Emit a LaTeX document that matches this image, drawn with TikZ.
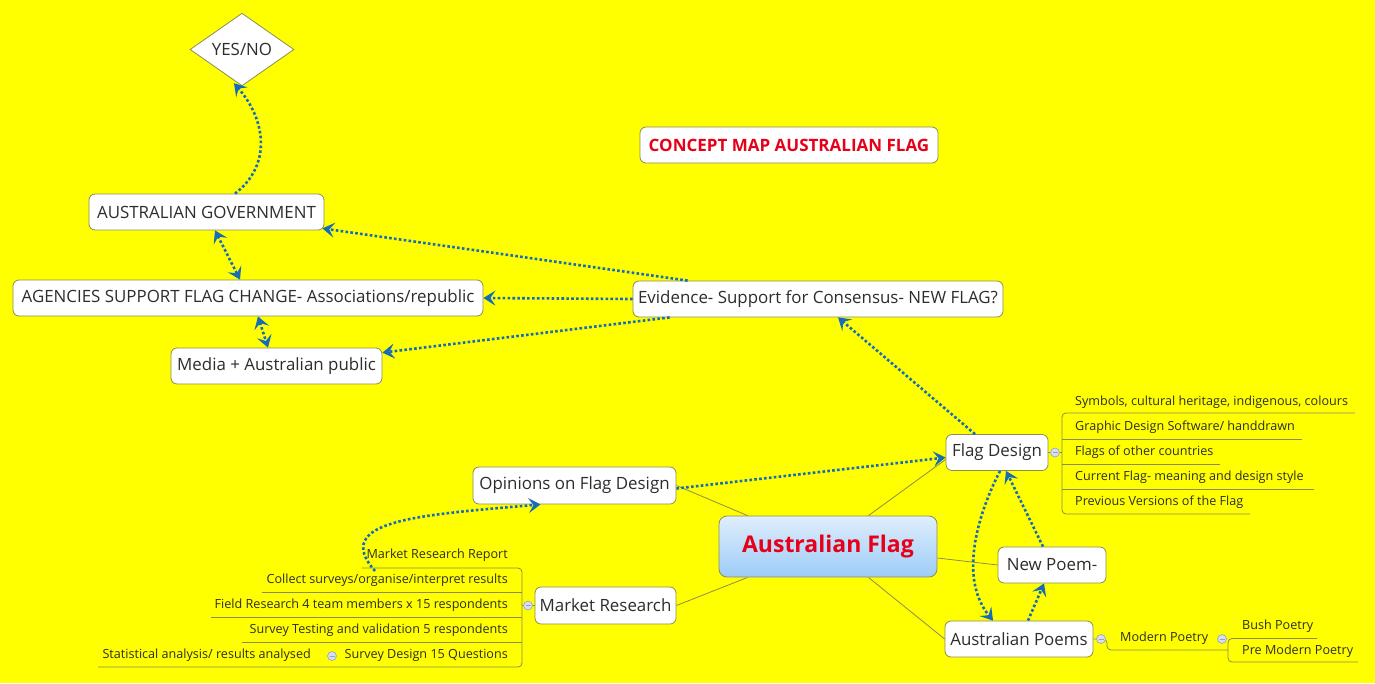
\documentclass[tikz,border=0pt]{standalone}
\usepackage{fontspec}
\setmainfont{Open Sans}
\usetikzlibrary{arrows.meta,shapes.geometric,calc}
\definecolor{bgyellow}{RGB}{255,255,0}
\definecolor{relblue}{RGB}{22,108,185}
\definecolor{edgecol}{RGB}{140,140,80}
\definecolor{txtcol}{RGB}{45,45,45}
\definecolor{redtxt}{RGB}{230,0,25}
\definecolor{minifill}{RGB}{214,222,240}
\definecolor{minidraw}{RGB}{150,160,195}
\definecolor{ctop}{RGB}{224,238,252}
\definecolor{cbot}{RGB}{156,204,248}
\pgfdeclarelayer{backlayer}
\pgfdeclarelayer{linklayer}
\pgfsetlayers{backlayer,linklayer,main}
\begin{document}
\begin{tikzpicture}[x=1pt,y=-1pt,
  topic/.style={draw=edgecol, fill=white, rounded corners=6pt, inner sep=0pt, text=txtcol, line width=0.8pt, font=\fontsize{16.9}{19}\selectfont},
  subtxt/.style={inner sep=0pt, text=txtcol, font=\fontsize{12.6}{14}\selectfont},
  treeline/.style={draw=edgecol, line width=0.8pt, rounded corners=4pt},
  conn/.style={draw=edgecol, line width=0.8pt},
  mini/.style={circle, draw=minidraw, fill=minifill, minimum size=9pt, inner sep=0pt, line width=0.6pt,
    path picture={\draw[minidraw, line width=0.8pt] ([xshift=-2.5pt]path picture bounding box.center) -- ([xshift=2.5pt]path picture bounding box.center);}},
  rel/.style={draw=relblue, line width=2.6pt, dash pattern=on 2.6pt off 2.3pt, -{Stealth[length=12pt,width=15pt,inset=5pt]}},
  relboth/.style={rel, {Stealth[length=12pt,width=15pt,inset=5pt]}-{Stealth[length=12pt,width=15pt,inset=5pt]}}
]
\begin{pgfonlayer}{backlayer}
\fill[bgyellow] (0,0) rectangle (1375,683);
\end{pgfonlayer}
\useasboundingbox (0,0) rectangle (1375,683);

% ---------- main topics
\node[topic, minimum width=218pt, minimum height=61pt, rounded corners=8pt, top color=ctop, bottom color=cbot,
  text=redtxt, font=\fontsize{23}{26}\bfseries] (central) at (828,546.5) {Australian Flag};
\node[topic, minimum width=203pt, minimum height=37pt] (opinions) at (574.5,485.5) {Opinions on Flag Design};
\node[topic, minimum width=141pt, minimum height=37pt] (market) at (605.5,605.5) {Market Research};
\node[topic, minimum width=102pt, minimum height=36pt] (flagdesign) at (997,452.5) {Flag Design};
\node[topic, minimum width=108pt, minimum height=36pt] (newpoem) at (1052,565) {New Poem-};
\node[topic, minimum width=148pt, minimum height=36pt] (poems) at (1019,639) {Australian Poems};

\begin{pgfonlayer}{linklayer}
\draw[conn] (opinions.east) -- ([xshift=29pt]central.north west);
\draw[conn] (market.east) -- ([xshift=29pt]central.south west);
\draw[conn] ([xshift=-69pt]central.north east) -- ([yshift=-7pt]flagdesign.west);
\draw[conn] ([yshift=-11.5pt]central.east) -- (newpoem.west);
\draw[conn] ([xshift=-69pt]central.south east) -- (poems.west);
\end{pgfonlayer}

% ---------- other topics
\node[diamond, draw=edgecol, fill=white, line width=0.8pt, minimum width=104pt, minimum height=67pt, inner sep=0pt,
  text=txtcol, font=\fontsize{16.9}{19}\selectfont] (yesno) at (242,49.5) {YES/NO};
\node[topic, minimum width=298pt, minimum height=36pt, text=redtxt, font=\fontsize{17}{19}\bfseries] (title) at (789,145) {CONCEPT MAP AUSTRALIAN FLAG};
\node[topic, minimum width=235pt, minimum height=36pt] (ag) at (206.5,212) {AUSTRALIAN GOVERNMENT};
\node[topic, minimum width=470pt, minimum height=36pt] (agencies) at (248,298) {AGENCIES SUPPORT FLAG CHANGE- Associations/republic};
\node[topic, minimum width=370pt, minimum height=36pt] (evidence) at (818,299) {Evidence- Support for Consensus- NEW FLAG?};
\node[topic, minimum width=211pt, minimum height=36pt] (media) at (276.5,366) {Media + Australian public};

% ---------- Flag Design subtopics
\begin{pgfonlayer}{linklayer}
\draw[conn] (flagdesign.east) -- (1062,452.5);
\draw[treeline] (1355,413) -- (1062,413) -- (1062,514) -- (1250,514);
\draw[conn] (1062,439) -- (1302,439);
\draw[conn] (1062,464) -- (1220,464);
\draw[conn] (1062,489) -- (1314,489);
\end{pgfonlayer}
\node[mini] (mfd) at (1055,452.5) {};
\node[subtxt, anchor=west] (fd1) at (1075,402) {Symbols, cultural heritage, indigenous, colours};
\node[subtxt, anchor=west] (fd2) at (1075,427) {Graphic Design Software/ handdrawn};
\node[subtxt, anchor=west] (fd3) at (1075,452) {Flags of other countries};
\node[subtxt, anchor=west] (fd4) at (1075,477) {Current Flag- meaning and design style};
\node[subtxt, anchor=west] (fd5) at (1075,502) {Previous Versions of the Flag};

% ---------- Market Research subtopics
\begin{pgfonlayer}{linklayer}
\draw[conn] (market.west) -- (522,605.5);
\draw[treeline] (362,568) -- (522,568) -- (522,667) -- (98,667);
\draw[conn] (262,592) -- (522,592);
\draw[conn] (211,617) -- (522,617);
\draw[conn] (242,642) -- (522,642);
\end{pgfonlayer}
\node[mini] (mmr) at (528,605.5) {};
\node[subtxt, anchor=east] (mr1) at (508,555) {Market Research Report};
\node[subtxt, anchor=east] (mr2) at (508,580) {Collect surveys/organise/interpret results};
\node[subtxt, anchor=east] (mr3) at (508,605) {Field Research 4 team members x 15 respondents};
\node[subtxt, anchor=east] (mr4) at (508,630) {Survey Testing and validation 5 respondents};
\node[subtxt, anchor=east] (mr5) at (508,655) {Survey Design 15 Questions};
\node[mini] (msd) at (332,656) {};
\node[subtxt, anchor=east] (mr6) at (311,655) {Statistical analysis/ results analysed};

% ---------- Australian Poems subtopics
\begin{pgfonlayer}{linklayer}
\draw[treeline] (poems.east) -- (1107,639) -- (1107,650) -- (1228,650);
\draw[treeline] (1317,638.5) -- (1228,638.5) -- (1228,662) -- (1358,662);
\end{pgfonlayer}
\node[mini] (map) at (1101,639) {};
\node[subtxt, anchor=west] (ap1) at (1120,638) {Modern Poetry};
\node[mini] (mmp) at (1222,639) {};
\node[subtxt, anchor=west] (ap2) at (1242,626) {Bush Poetry};
\node[subtxt, anchor=west] (ap3) at (1242,651) {Pre Modern Poetry};

% ---------- relationships
\coordinate (mrstart) at (375,571);
\draw[rel] ([xshift=28.5pt]ag.north) .. controls (272,165) and (266,120) .. ([xshift=-8pt,yshift=3pt]yesno.south);
\draw[rel] ([xshift=55pt]evidence.north west) -- ([xshift=-2pt,yshift=2pt]ag.south east);
\draw[rel] (evidence.west) -- (agencies.east);
\draw[rel] ([xshift=37pt]evidence.south west) -- ([yshift=-5pt]media.north east);
\draw[relboth] ([xshift=8.5pt]ag.south) -- ([xshift=-8pt]agencies.north);
\draw[relboth] ([xshift=10pt]agencies.south) -- ([xshift=-8.5pt]media.north);
\draw[rel] ([xshift=-22pt]flagdesign.north) -- ([xshift=20pt]evidence.south);
\draw[rel] ([yshift=-3pt]opinions.east) -- ([yshift=-5pt]flagdesign.west);
\draw[rel] (mrstart) .. controls (330,520) and (420,515) .. ([xshift=-34pt]opinions.south);
\draw[rel] ([xshift=3pt]flagdesign.south) .. controls (975,520) and (960,580) .. ([xshift=-26pt]poems.north);
\draw[rel] ([xshift=9pt]poems.north) -- ([xshift=-8pt]newpoem.south);
\draw[rel] ([xshift=-9pt]newpoem.north) -- ([xshift=9pt]flagdesign.south);
\end{tikzpicture}
\end{document}
